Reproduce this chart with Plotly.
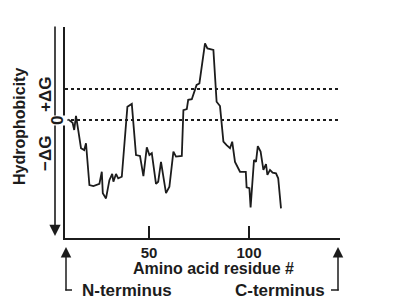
import plotly.graph_objects as go

# ---- data ----
residue = [9.6, 11.8, 12.6, 13.5, 14.6, 16.0, 17.6, 18.5, 20.2, 22.2,
           25.2, 26.4, 26.9, 28.5, 30.2, 31.6, 32.2, 33.5, 34.6, 36.4,
           39.2, 41.4, 43.5, 45.5, 47.2, 48.9, 50.2, 51.4, 53.5, 54.6,
           56.0, 57.2, 58.5, 60.2, 62.2, 63.5, 66.4, 67.2, 68.9, 69.6,
           71.4, 73.8, 75.2, 78.0, 79.2, 82.2, 83.8, 85.5, 87.2, 88.8,
           90.5, 91.6, 93.0, 95.5, 98.4, 98.8, 100.2, 100.8, 102.5, 103.5,
           104.4, 105.8, 107.2, 108.5, 109.2, 110.5, 111.8, 113.5, 114.6, 116.0]
hydrophobicity = [0.02, -0.09, -0.32, 0.13, -0.32, -0.91, -0.97, -0.75, -2.10, -2.13,
                  -2.06, -1.67, -2.36, -2.53, -1.94, -1.74, -1.99, -1.74, -1.88, -1.83,
                  0.43, 0.52, -1.13, -1.16, -1.81, -0.88, -1.13, -1.07, -2.06, -1.99,
                  -1.35, -1.83, -2.36, -2.15, -1.02, -1.18, -1.16, 0.32, 0.35, 0.65,
                  0.67, 1.13, 1.18, 2.47, 2.31, 2.26, 0.59, 0.45, -0.70, -0.81,
                  -0.91, -0.70, -1.35, -1.67, -1.67, -2.17, -2.20, -2.82, -1.29, -1.35,
                  -0.84, -1.02, -1.61, -1.42, -1.77, -1.61, -1.70, -1.72, -1.88, -2.85]
assert len(residue) == len(hydrophobicity)

x_ticks = [50, 100]
x_tick_labels = ["50", "100"]
threshold_levels = [0, 1]
x_title = "Amino acid residue #"
y_title = "Hydrophobicity"

# ---- layout geometry ----
W, H = 420, 304
L, R, T, B = 65, 80, 27, 66
PW, PH = W - L - R, H - T - B
INK = "#1c1c1c"
FONT = "Liberation Sans"


def px(x):
    return (x - L) / PW


def py(y):
    return (H - B - y) / PH


fig = go.Figure()
fig.add_trace(go.Scatter(x=residue, y=hydrophobicity, mode="lines",
                         line=dict(color=INK, width=1.8), showlegend=False,
                         hoverinfo="skip"))

shapes = []
for lv in threshold_levels:
    shapes.append(dict(type="line", xref="paper", yref="y", x0=0, x1=1, y0=lv, y1=lv,
                       line=dict(color=INK, width=2, dash="3px,3px")))
# terminus bracket lines
shapes.append(dict(type="line", xref="paper", yref="paper", x0=px(65.3), x1=px(72),
                   y0=py(290), y1=py(290), line=dict(color=INK, width=1.5)))
shapes.append(dict(type="line", xref="paper", yref="paper", x0=px(331), x1=px(338.7),
                   y0=py(290), y1=py(290), line=dict(color=INK, width=1.5)))

bold = dict(family=FONT, color=INK, weight="bold")


def label(x, y, text, size, angle=0, xanchor="center", **kw):
    return dict(x=px(x), y=py(y), xref="paper", yref="paper", text=text, showarrow=False,
                xanchor=xanchor, yanchor="middle", textangle=angle,
                font=dict(size=size, **bold), **kw)


def arrow(x, y_tip, y_tail, width):
    return dict(x=px(x), y=py(y_tip), xref="paper", yref="paper", text="", showarrow=True,
                xanchor="center", yanchor="middle",
                ax=0, ay=y_tail - y_tip, arrowhead=2, arrowsize=1.4, arrowwidth=width,
                arrowcolor=INK)


annotations = [
    arrow(55, 236, 25, 1.6),
    arrow(66, 247, 292, 1.5),
    arrow(338, 247, 292, 1.5),
    label(19, 127, y_title, 16, -90),
    label(45, 154, "\u2212\u0394G", 17, -90),
    label(45, 95, "+\u0394G", 17, -90),
    label(57, 121, "0", 17, -90, bgcolor="white", borderpad=0),
    label(213, 268, x_title, 16),
    label(80, 290, "N-terminus", 17, xanchor="left"),
    label(327, 290, "C-terminus", 17, xanchor="right"),
]

fig.update_layout(
    width=W, height=H, autosize=False,
    margin=dict(l=L, r=R, t=T, b=B, pad=0),
    paper_bgcolor="white", plot_bgcolor="white",
    shapes=shapes, annotations=annotations, showlegend=False,
    xaxis=dict(range=[8, 145.5], showline=True, linecolor=INK, linewidth=2,
               showgrid=False, zeroline=False, ticks="inside", ticklen=12, tickwidth=2,
               tickcolor=INK, tickvals=x_ticks, ticktext=x_tick_labels,
               tickfont=dict(size=15, **bold)),
    yaxis=dict(range=[-3.806, 3.0], showline=True, linecolor=INK, linewidth=2,
               showgrid=False, zeroline=False, showticklabels=False, ticks=""),
)

fig.write_html("out.html")
